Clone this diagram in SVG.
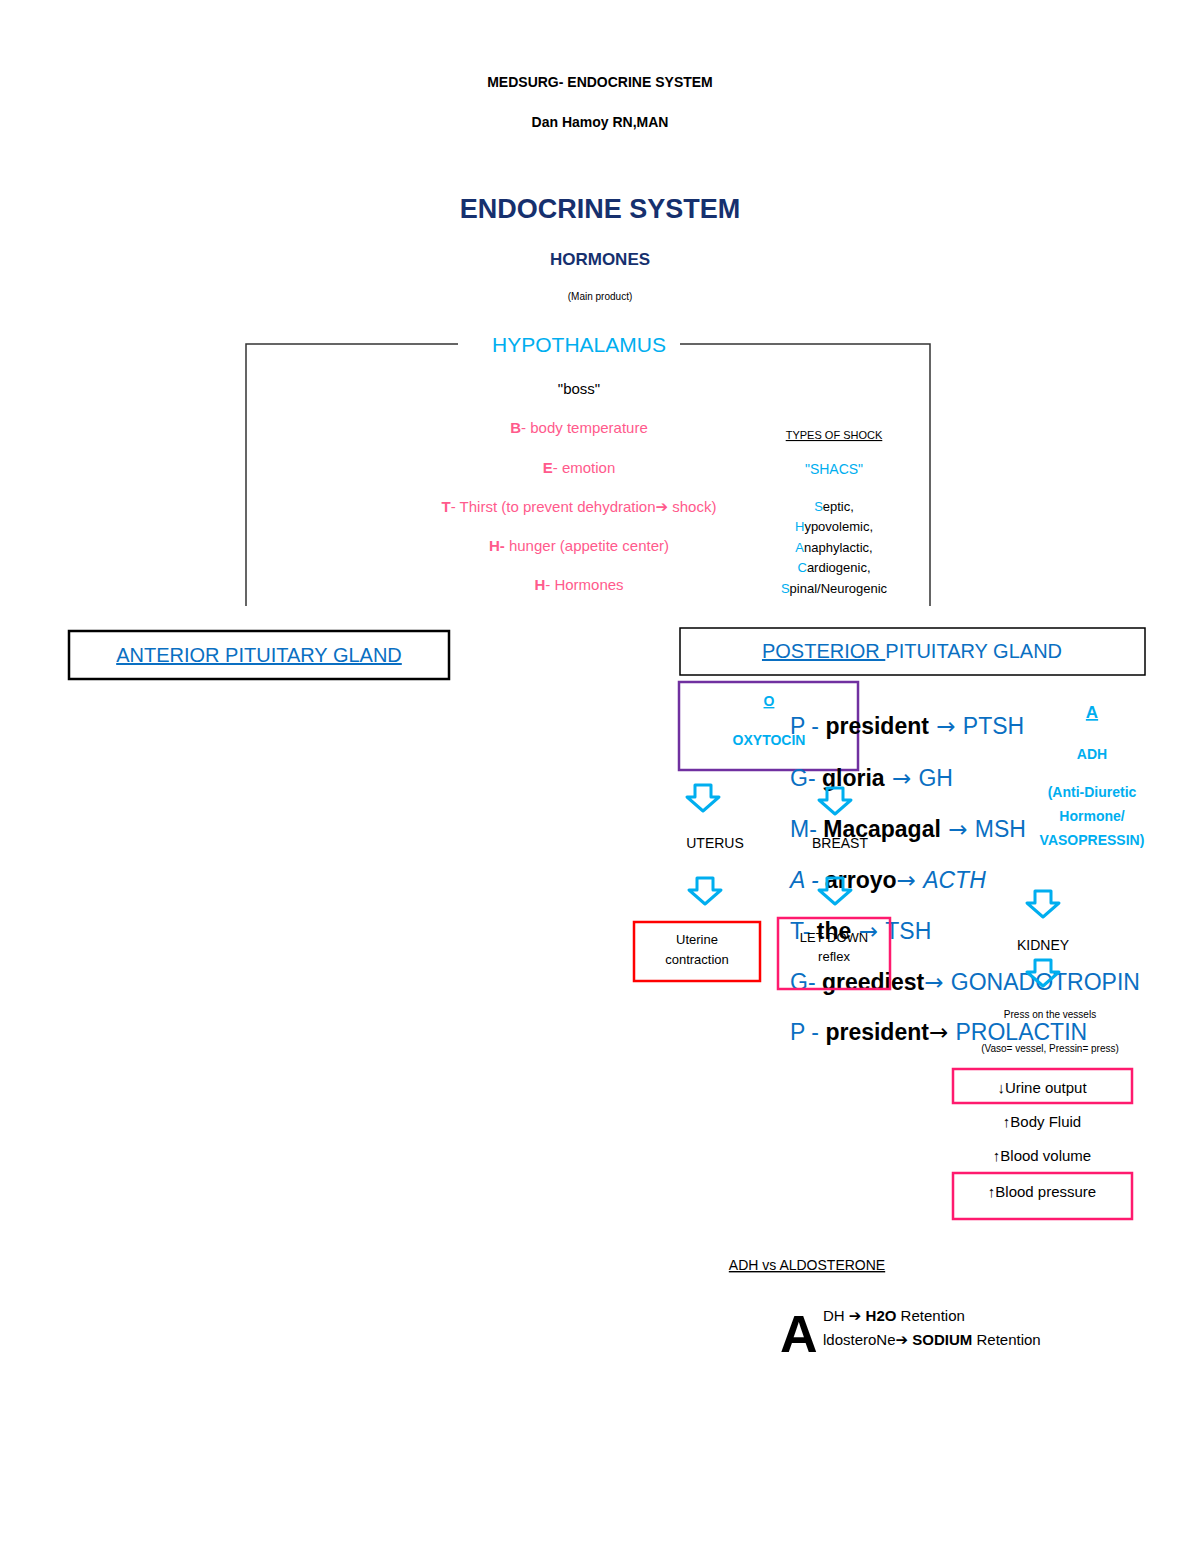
<svg xmlns="http://www.w3.org/2000/svg" width="1200" height="1553" viewBox="0 0 1200 1553">
<defs>
<style>
text{font-family:"Liberation Sans",Arial,sans-serif}
.b{font-weight:bold}
.c{text-anchor:middle}
.pink{fill:#ff5a8c}
.lb{fill:#00aeef}
.bl{fill:#0a6fc2}
.nv{fill:#16306e}
.mn{font-size:23px}
.blk{fill:#000}
.arw{font-family:"DejaVu Sans",sans-serif}
.box{fill:none;stroke-width:2.5}
.ar{fill:none;stroke:#00aeef;stroke-width:3;stroke-linejoin:round}
</style>
<path id="da" d="M-8,-12 H8 V0 H16 L0,14 L-16,0 H-8 Z"/>
</defs>
<g id="header">
<text x="600" y="87" class="c b" font-size="14">MEDSURG- ENDOCRINE SYSTEM</text>
<text x="600" y="127" class="c b" font-size="14">Dan Hamoy RN,MAN</text>
<text x="600" y="218" class="c b nv" font-size="27">ENDOCRINE SYSTEM</text>
<text x="600" y="265" class="c b nv" font-size="17">HORMONES</text>
<text x="600" y="300" class="c" font-size="10">(Main product)</text>
</g>
<g id="hypothalamus">
<path d="M246,606 V344 H458 M680,344 H930 V606" fill="none" stroke="#333" stroke-width="1.5"/>
<text x="579" y="352" class="c lb" font-size="21">HYPOTHALAMUS</text>
<text x="579" y="394" class="c" font-size="15">"boss"</text>
<text x="579" y="433" class="c pink" font-size="15"><tspan class="b">B</tspan>- body temperature</text>
<text x="579" y="473" class="c pink" font-size="15"><tspan class="b">E</tspan>- emotion</text>
<text x="579" y="512" class="c pink" font-size="15"><tspan class="b">T</tspan>- Thirst (to prevent dehydration<tspan class="arw">➔</tspan> shock)</text>
<text x="579" y="551" class="c pink" font-size="15"><tspan class="b">H-</tspan> hunger (appetite center)</text>
<text x="579" y="590" class="c pink" font-size="15"><tspan class="b">H</tspan>- Hormones</text>
</g>
<g id="shock">
<text x="834" y="439" class="c" font-size="11" text-decoration="underline">TYPES OF SHOCK</text>
<text x="834" y="474" class="c lb" font-size="14">"SHACS"</text>
<text x="834" y="511" class="c" font-size="13"><tspan class="lb">S</tspan>eptic,</text>
<text x="834" y="531" class="c" font-size="13"><tspan class="lb">H</tspan>ypovolemic,</text>
<text x="834" y="552" class="c" font-size="13"><tspan class="lb">A</tspan>naphylactic,</text>
<text x="834" y="572" class="c" font-size="13"><tspan class="lb">C</tspan>ardiogenic,</text>
<text x="834" y="593" class="c" font-size="13"><tspan class="lb">S</tspan>pinal/Neurogenic</text>
</g>
<g id="anterior">
<rect x="69" y="631" width="380" height="48" fill="none" stroke="#000" stroke-width="2.5"/>
<text x="259" y="662" class="c bl" font-size="20" text-decoration="underline">ANTERIOR PITUITARY GLAND</text>
</g>
<g id="posterior">
<rect x="680" y="628" width="465" height="47" fill="none" stroke="#000" stroke-width="1.5"/>
<text x="912" y="658" class="c bl" font-size="20"><tspan text-decoration="underline">POSTERIOR </tspan>PITUITARY GLAND</text>
</g>
<g id="oxytocin">
<rect x="679" y="682" width="179" height="88" class="box" stroke="#7030a0"/>
<text x="769" y="706" class="c b lb" font-size="14" text-decoration="underline">O</text>
<text x="769" y="745" class="c b lb" font-size="14">OXYTOCIN</text>
</g>
<g id="mnemonic" class="mn">
<text x="790" y="734"><tspan class="bl">P - </tspan><tspan class="blk b">president</tspan><tspan class="bl arw"> → </tspan><tspan class="bl">PTSH</tspan></text>
<text x="790" y="786"><tspan class="bl">G- </tspan><tspan class="blk b">gloria</tspan><tspan class="bl arw"> → </tspan><tspan class="bl">GH</tspan></text>
<text x="790" y="837"><tspan class="bl">M- </tspan><tspan class="blk b">Macapagal</tspan><tspan class="bl arw"> → </tspan><tspan class="bl">MSH</tspan></text>
<text x="790" y="888" font-style="italic"><tspan class="bl">A - </tspan><tspan class="blk b" font-style="normal">arroyo</tspan><tspan class="bl arw" font-style="normal">→ </tspan><tspan class="bl">ACTH</tspan></text>
<text x="790" y="939"><tspan class="bl">T- </tspan><tspan class="blk b">the</tspan><tspan class="bl arw"> → </tspan><tspan class="bl">TSH</tspan></text>
<text x="790" y="990"><tspan class="bl">G- </tspan><tspan class="blk b">greediest</tspan><tspan class="bl arw">→ </tspan><tspan class="bl">GONADOTROPIN</tspan></text>
<text x="790" y="1040"><tspan class="bl">P - </tspan><tspan class="blk b">president</tspan><tspan class="blk arw">→ </tspan><tspan class="bl">PROLACTIN</tspan></text>
</g>
<g id="adh">
<text x="1092" y="718" class="c b lb" font-size="17" text-decoration="underline">A</text>
<text x="1092" y="759" class="c b lb" font-size="14">ADH</text>
<text x="1092" y="797" class="c b lb" font-size="14">(Anti-Diuretic</text>
<text x="1092" y="821" class="c b lb" font-size="14">Hormone/</text>
<text x="1092" y="845" class="c b lb" font-size="14">VASOPRESSIN)</text>
</g>
<g id="targets">
<text x="715" y="848" class="c" font-size="14">UTERUS</text>
<text x="840" y="848" class="c" font-size="14">BREAST</text>
<text x="1043" y="950" class="c" font-size="14">KIDNEY</text>
<rect x="634" y="922" width="126" height="59" class="box" stroke="#ff0000"/>
<text x="697" y="944" class="c" font-size="13">Uterine</text>
<text x="697" y="964" class="c" font-size="13">contraction</text>
<rect x="778" y="918" width="112" height="71" class="box" stroke="#ff1a6e"/>
<text x="834" y="942" class="c" font-size="13">LET DOWN</text>
<text x="834" y="961" class="c" font-size="13">reflex</text>
<text x="1050" y="1018" class="c" font-size="10">Press on the vessels</text>
<text x="1050" y="1052" class="c" font-size="10">(Vaso= vessel, Pressin= press)</text>
</g>
<g id="effects">
<rect x="953" y="1069" width="179" height="34" class="box" stroke="#ff1a6e"/>
<text x="1042" y="1093" class="c" font-size="15">↓Urine output</text>
<text x="1042" y="1127" class="c" font-size="15">↑Body Fluid</text>
<text x="1042" y="1161" class="c" font-size="15">↑Blood volume</text>
<rect x="953" y="1173" width="179" height="46" class="box" stroke="#ff1a6e"/>
<text x="1042" y="1197" class="c" font-size="15">↑Blood pressure</text>
</g>
<g id="aldosterone">
<text x="807" y="1270" class="c" font-size="14" text-decoration="underline">ADH vs ALDOSTERONE</text>
<text x="780" y="1352" class="b" font-size="52">A</text>
<text x="823" y="1321" font-size="15">DH <tspan class="b arw">➔</tspan><tspan class="b"> H2O</tspan> Retention</text>
<text x="823" y="1345" font-size="15">ldosteroNe<tspan class="b arw">➔</tspan><tspan class="b"> SODIUM</tspan> Retention</text>
</g>
<g id="connectors">
<use href="#da" x="703" y="797" class="ar"/>
<use href="#da" x="835" y="800" class="ar"/>
<use href="#da" x="705" y="890" class="ar"/>
<use href="#da" x="835" y="890" class="ar"/>
<use href="#da" x="1043" y="903" class="ar"/>
<use href="#da" x="1043" y="972" class="ar"/>
</g>
</svg>
